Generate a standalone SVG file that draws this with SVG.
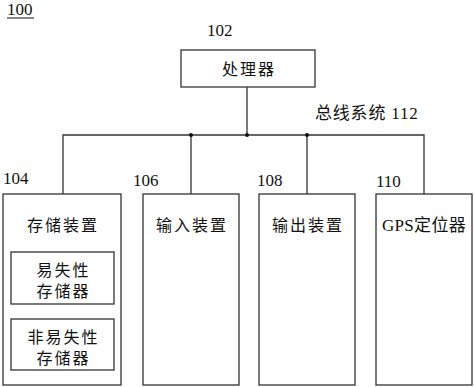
<svg xmlns="http://www.w3.org/2000/svg" width="474" height="387" viewBox="0 0 474 387">
<style>
.box{fill:#fff;stroke:#333;stroke-width:1.3}
.ln{fill:none;stroke:#333;stroke-width:1.3}
.num{font-family:"Liberation Serif","Noto Sans CJK SC",serif;font-size:17px;fill:#111}
.lbl{font-family:"Liberation Serif","Noto Sans CJK SC",serif;font-size:16px;fill:#111;letter-spacing:2px;text-anchor:middle}
</style>
<rect width="474" height="387" fill="#fff"/>
<g id="label-100">
<text class="num" x="7" y="15">100</text>
<line x1="7" y1="18" x2="34" y2="18" stroke="#111" stroke-width="1"/>
</g>
<g id="connectors">
<line class="ln" x1="247" y1="87" x2="247" y2="135"/>
<polyline class="ln" points="63,194 63,135 424,135 424,194"/>
<line class="ln" x1="191" y1="135" x2="191" y2="194"/>
<line class="ln" x1="307" y1="135" x2="307" y2="194"/>
<circle cx="191" cy="135" r="2" fill="#111"/>
<circle cx="247" cy="135" r="2" fill="#111"/>
<circle cx="307" cy="135" r="2" fill="#111"/>
<text class="num" x="315" y="119" style="letter-spacing:0.8px">总线系统 112</text>
</g>
<g id="n102">
<text class="num" x="207" y="36">102</text>
<rect class="box" x="181" y="50" width="134" height="37"/>
<text class="lbl" x="249" y="75">处理器</text>
</g>
<g id="n104">
<text class="num" x="3" y="184">104</text>
<rect class="box" x="3" y="194" width="118" height="191"/>
<text class="lbl" x="63" y="231">存储装置</text>
<g id="n104-volatile">
<rect class="box" x="11" y="252" width="103" height="52"/>
<text class="lbl" x="63.5" y="276">易失性</text>
<text class="lbl" x="63.5" y="297">存储器</text>
</g>
<g id="n104-nonvolatile">
<rect class="box" x="11" y="319" width="103" height="51"/>
<text class="lbl" x="63.5" y="343">非易失性</text>
<text class="lbl" x="63.5" y="364">存储器</text>
</g>
</g>
<g id="n106">
<text class="num" x="133" y="186">106</text>
<rect class="box" x="143" y="194" width="96" height="191"/>
<text class="lbl" x="192" y="231">输入装置</text>
</g>
<g id="n108">
<text class="num" x="257" y="186">108</text>
<rect class="box" x="259" y="194" width="96" height="191"/>
<text class="lbl" x="308" y="231">输出装置</text>
</g>
<g id="n110">
<text class="num" x="376" y="187">110</text>
<rect class="box" x="376" y="194" width="96" height="191"/>
<text class="lbl" x="424" y="231" style="font-size:17px;letter-spacing:0.3px">GPS定位器</text>
</g>
</svg>
